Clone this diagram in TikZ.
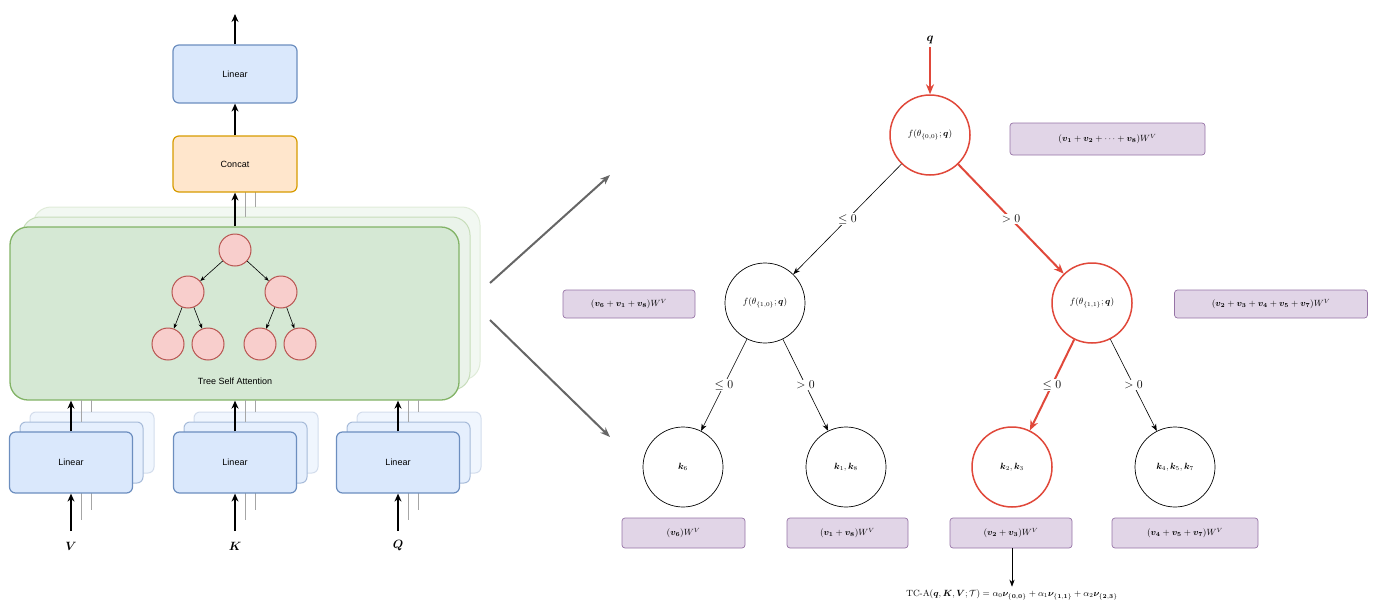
\documentclass[tikz,border=0pt]{standalone}
\usepackage{amsmath,bm}
\usepackage{fontspec}
\setsansfont{Liberation Sans}
\usetikzlibrary{arrows.meta}
\definecolor{bfill}{HTML}{DAE8FC}\definecolor{bdraw}{HTML}{6C8EBF}
\definecolor{gfill}{HTML}{D5E8D4}\definecolor{gdraw}{HTML}{82B366}
\definecolor{ofill}{HTML}{FFE6CC}\definecolor{odraw}{HTML}{D79B00}
\definecolor{rfill}{HTML}{F8CECC}\definecolor{rdraw}{HTML}{B85450}
\definecolor{pfill}{HTML}{E1D5E7}\definecolor{pdraw}{HTML}{9673A6}
\definecolor{red2}{HTML}{E0483A}
\tikzset{
 blk/.style={draw=bdraw,fill=bfill,rounded corners=6pt,line width=1.2pt,font=\sffamily\small},
 arr/.style={-{Stealth[length=8pt,width=7pt]},line width=1.6pt},
 tn/.style={circle,draw=rdraw,fill=rfill,line width=1pt,minimum size=32pt,inner sep=0},
 tarr/.style={-{Stealth[length=5pt]},line width=0.6pt},
 big/.style={circle,draw,line width=0.7pt,minimum size=80pt,inner sep=0,font=\small},
 rbig/.style={big,draw=red2,line width=1.5pt},
 vb/.style={draw=pdraw,fill=pfill,rounded corners=3pt,line width=0.7pt,inner sep=0,font=\small},
 ed/.style={line width=0.6pt,-{Stealth[length=7pt]}},
 red/.style={draw=red2,line width=2pt,-{Stealth[length=10pt,width=8pt]}},
 lab/.style={fill=white,inner sep=1pt,font=\large},
}
\begin{document}
\begin{tikzpicture}[x=1pt,y=-1pt]
\useasboundingbox (0,0) rectangle (1376,613);
% green stack
\draw[draw=gdraw!25,fill=gfill!30,rounded corners=18pt,line width=1pt] (33,207) rectangle (480,380);
\draw[draw=gdraw!45,fill=gfill!50,rounded corners=18pt,line width=1pt] (22,217) rectangle (470,390);
\draw[draw=gray!70,line width=1pt] (245,192)--(245,217) (255,192)--(255,207);
\node[draw=gdraw,fill=gfill,rounded corners=18pt,line width=1.3pt,minimum width=449pt,minimum height=173pt] (tsa) at (234.5,313.5) {};
\node[font=\sffamily\small] (tsal) at (235,381) {Tree Self Attention};
% tree
\node[tn] (r) at (235,250) {};
\node[tn] (a) at (188,292) {}; \node[tn] (b) at (281,292) {};
\node[tn] (a1) at (168,344) {}; \node[tn] (a2) at (208,344) {};
\node[tn] (b1) at (260,344) {}; \node[tn] (b2) at (300,344) {};
\foreach \u/\v in {r/a,r/b,a/a1,a/a2,b/b1,b/b2}\draw[tarr] (\u)--(\v);
% top
\node[blk,minimum width=124pt,minimum height=58pt] (lin) at (235,74) {Linear};
\node[blk,draw=odraw,fill=ofill,minimum width=124pt,minimum height=56pt] (cat) at (235,164) {Concat};
\coordinate (out) at (235,14);
\draw[arr] (lin)--(out);
\draw[arr] (cat)--(lin);
\draw[arr] (tsa.north-|cat)--(cat);
% bottom linears
\foreach \n/\x/\l in {v/71/V,k/235/K,q/398/Q}{
 \draw[draw=bdraw!30,fill=bfill!40,rounded corners=6pt,line width=1pt] (\x-41,412) rectangle (\x+83,473);
 \draw[draw=bdraw!60,fill=bfill!70,rounded corners=6pt,line width=1pt] (\x-51,422) rectangle (\x+72,483);
 \draw[draw=gray!70,line width=1pt] (\x+10,400)--(\x+10,422) (\x+20,400)--(\x+20,412) (\x+10,493)--(\x+10,520) (\x+20,493)--(\x+20,510);
 \node[blk,minimum width=123pt,minimum height=61pt] (L\n) at (\x,462.5) {Linear};
 \node[font=\large] (in\n) at (\x,546) {$\bm{\l}$};
 \draw[arr] (\x,531)--(L\n);
 \draw[arr] (L\n)--(L\n.north|-tsa.south);
}
% big arrows
\coordinate (g0) at (490,283); \coordinate (g1) at (610,175);
\coordinate (g2) at (490,320); \coordinate (g3) at (610,437);
\draw[gray!80!black,line width=2pt,-{Stealth[length=10pt]}] (g0)--(g1);
\draw[gray!80!black,line width=2pt,-{Stealth[length=10pt]}] (g2)--(g3);
% right tree
\node[font=\large] (qq) at (930,40) {$\bm{q}$};
\node[rbig] (n0) at (930,135) {$f(\theta_{\{0,0\}};\bm{q})$};
\node[big] (n10) at (765,303) {$f(\theta_{\{1,0\}};\bm{q})$};
\node[rbig] (n11) at (1092,303) {$f(\theta_{\{1,1\}};\bm{q})$};
\node[big] (l1) at (683,467) {$\bm{k}_6$};
\node[big] (l2) at (846,467) {$\bm{k}_1,\bm{k}_8$};
\node[rbig] (l3) at (1012,467) {$\bm{k}_2,\bm{k}_3$};
\node[big] (l4) at (1175,467) {$\bm{k}_4,\bm{k}_5,\bm{k}_7$};
\draw[red] (qq)--(n0);
\draw[ed] (n0)--node[lab]{$\le 0$}(n10);
\draw[red] (n0)--node[lab]{$>0$}(n11);
\draw[ed] (n10)--node[lab]{$\le 0$}(l1);
\draw[ed] (n10)--node[lab]{$>0$}(l2);
\draw[red] (n11)--node[lab]{$\le 0$}(l3);
\draw[ed] (n11)--node[lab]{$>0$}(l4);
\node[vb,minimum width=195pt,minimum height=32pt] (b0) at (1107.5,139) {$(\bm{v_1}+\bm{v_2}+\dots+\bm{v_8})W^V$};
\node[vb,minimum width=132pt,minimum height=28pt] (b10) at (629,304) {$(\bm{v_6}+\bm{v_1}+\bm{v_8})W^V$};
\node[vb,minimum width=193pt,minimum height=28pt] (b11) at (1271,304) {$(\bm{v_2}+\bm{v_3}+\bm{v_4}+\bm{v_5}+\bm{v_7})W^V$};
\node[vb,minimum width=123pt,minimum height=30pt] (c1) at (683.5,533) {$(\bm{v_6})W^V$};
\node[vb,minimum width=121pt,minimum height=30pt] (c2) at (847.5,533) {$(\bm{v_1}+\bm{v_8})W^V$};
\node[vb,minimum width=122pt,minimum height=30pt] (c3) at (1011,533) {$(\bm{v_2}+\bm{v_3})W^V$};
\node[vb,minimum width=146pt,minimum height=30pt] (c4) at (1185,533) {$(\bm{v_4}+\bm{v_5}+\bm{v_7})W^V$};
\node[font=\small] (tc) at (1012,595) {TC-A$(\bm{q},\bm{K},\bm{V};\mathcal{T})=\alpha_0\bm{\nu}_{\{\bm{0},\bm{0}\}}+\alpha_1\bm{\nu}_{\{\bm{1},\bm{1}\}}+\alpha_2\bm{\nu}_{\{\bm{2},\bm{3}\}}$};
\draw[ed] (c3.south-|l3)--(tc.north-|l3);
\end{tikzpicture}
\end{document}
